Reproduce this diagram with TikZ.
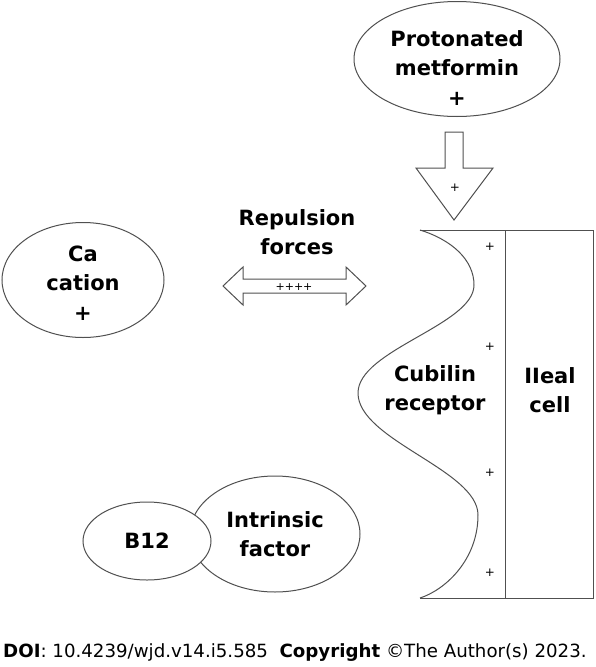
\documentclass[tikz,border=0pt]{standalone}
\usepackage{fontspec}
\setmainfont{DejaVu Sans}
\usetikzlibrary{shapes.geometric}
\definecolor{linegray}{HTML}{505050}
\begin{document}
\begin{tikzpicture}[x=1pt,y=-1pt,
      every node/.style={font=\bfseries\fontsize{21}{29.5}\selectfont, align=center},
      blob/.style={ellipse, draw=linegray, line width=1pt, fill=white, inner sep=0pt},
      outline/.style={draw=linegray, line width=1pt, line join=miter},
      charge/.style={font=\fontsize{11}{11}\selectfont, inner sep=0pt},
      credit/.style={font=\fontsize{18.2}{20}\selectfont, anchor=base west, inner sep=0pt}
      ]
      \useasboundingbox (0,0) rectangle (596,667);
      % ellipses
      \node[blob, minimum width=206pt, minimum height=115pt] (metformin) at (457,59) {};
      \node (metformintext) at (457,68) {Protonated\\metformin\\+};
      \node[blob, minimum width=162pt, minimum height=115pt] (calcium) at (83,280) {};
      \node (calciumtext) at (83,283) {Ca\\cation\\+};
      \node[blob, minimum width=170pt, minimum height=116pt] (factor) at (275,534)
        {Intrinsic\\factor};
      \node[blob, minimum width=128pt, minimum height=78pt] (vitamin) at (147,541) {B12};
      % arrow from metformin
      \draw[outline] (445,132) -- (463,132) -- (463,168) -- (493,168) -- (454,220)
        -- (416,168) -- (445,168) -- cycle;
      \node[charge, font=\fontsize{12}{12}\selectfont] (drugcharge) at (455,188) {+};
      % repulsion
      \node (repulsion) at (297,232) {Repulsion\\forces};
      \draw[outline] (223,286) -- (243,267) -- (243,279) -- (346,279) -- (346,267)
        -- (366,286) -- (346,305) -- (346,293) -- (243,293) -- (243,305) -- cycle;
      \node[charge] (pluses) at (294,287) {++++};
      % membrane and cell
      \coordinate (wavetop) at (420,230);
      \coordinate (wavebot) at (420,598);
      \draw[outline] (wavetop) -- (593,230) -- (593,598) -- (wavebot);
      \draw[outline] (505,230) -- (505,598);
      \draw[outline] (wavetop) .. controls (452,240) and (474,260) .. (474,285)
        .. controls (474,325) and (358,350) .. (358,393)
        .. controls (358,440) and (478,470) .. (478,515)
        .. controls (478,560) and (445,590) .. (wavebot);
      \foreach \y in {247,347,473,573}
        \node[charge, font=\fontsize{12}{12}\selectfont] at (490,\y) {+};
      \node (cubilin) at (435,390) {Cubilin\\receptor};
      \node (ileal) at (550,390) {IIeal\\cell};
      % source line
      \node[credit] (doi) at (3,657)
        {\textbf{DOI}: 10.4239/wjd.v14.i5.585\ \ \textbf{Copyright} \textcopyright The Author(s) 2023.};
    \end{tikzpicture}
\end{document}
